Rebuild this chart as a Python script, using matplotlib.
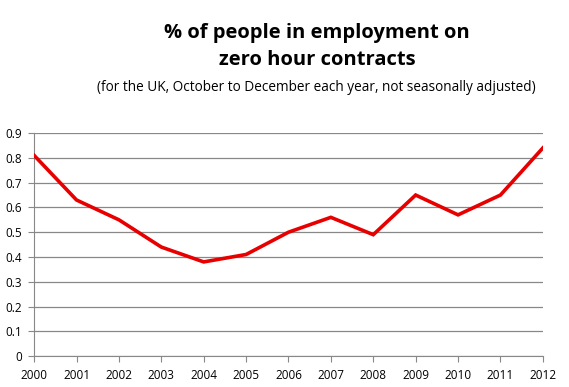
import matplotlib.pyplot as plt

plt.rcParams['font.family'] = ['Open Sans', 'DejaVu Sans']

# Data
years = ['2000', '2001', '2002', '2003', '2004', '2005', '2006',
         '2007', '2008', '2009', '2010', '2011', '2012']
share = [0.81, 0.63, 0.55, 0.44, 0.38, 0.41, 0.50,
         0.56, 0.49, 0.65, 0.57, 0.65, 0.84]
y_ticks = [0, 0.1, 0.2, 0.3, 0.4, 0.5, 0.6, 0.7, 0.8, 0.9]

fig = plt.figure(figsize=(5.69, 3.87), dpi=100)
ax = fig.add_axes([0.060, 0.080, 0.894, 0.576])

x = list(range(len(years)))
ax.plot(x, share, color='#e80000', linewidth=2.6, solid_joinstyle='miter', zorder=3)

ax.set_xlim(0, len(years) - 1)
ax.set_ylim(0, 0.9)
ax.set_xticks(x)
ax.set_xticklabels(years)
ax.set_yticks(y_ticks)
ax.set_yticklabels(['0' if v == 0 else f'{v:g}' for v in y_ticks])

ax.grid(axis='y', color='#888888', linewidth=0.9)
ax.set_axisbelow(True)
for side in ['top', 'right']:
    ax.spines[side].set_visible(False)
ax.spines['left'].set_color('#888888')
ax.spines['bottom'].set_color('#888888')
ax.tick_params(axis='both', colors='#888888', labelcolor='black', labelsize=8.5, length=4)
ax.tick_params(axis='x', pad=5)
ax.tick_params(axis='y', pad=5)

fig.text(0.557, 0.915, '% of people in employment on', ha='center', va='center',
         fontsize=14.5, fontweight='bold')
fig.text(0.557, 0.845, 'zero hour contracts', ha='center', va='center',
         fontsize=14.5, fontweight='bold')
fig.text(0.556, 0.775, '(for the UK, October to December each year, not seasonally adjusted)',
         ha='center', va='center', fontsize=9.8)

fig.savefig('out.png', dpi=100)
